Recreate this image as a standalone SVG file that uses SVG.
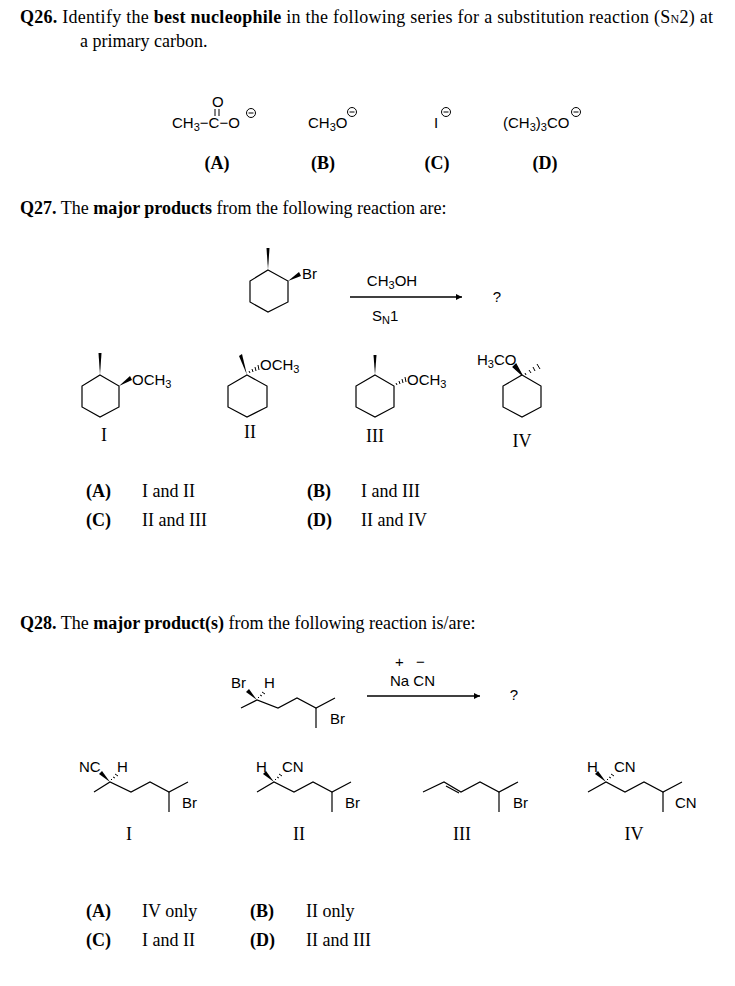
<svg xmlns="http://www.w3.org/2000/svg" width="735" height="986" viewBox="0 0 735 986">
<style>
.t{font-family:"Liberation Serif",serif;font-size:18px;fill:#000}
.s{font-family:"Liberation Sans",Arial,sans-serif;font-size:15px;fill:#000}
.b{stroke:#000;stroke-width:1.2;fill:none}
.w{fill:#000}
.h{stroke:#000;stroke-width:1}
</style>
<defs>
<marker id="ar" viewBox="0 0 10 10" refX="10" refY="5" markerWidth="8" markerHeight="6" orient="auto" markerUnits="userSpaceOnUse"><path d="M0,0L10,5L0,10z"/></marker>
<g id="neg"><circle r="4.5" fill="none" stroke="#000" stroke-width="1"/><line x1="-2.5" x2="2.5" stroke="#000" stroke-width="1"/></g>
</defs>
<rect width="735" height="986" fill="#fff"/>
<g id="q26">
<text class="t" x="20" y="23" textLength="693" lengthAdjust="spacing"><tspan font-weight="bold">Q26.</tspan> Identify the <tspan font-weight="bold">best nucleophile</tspan> in the following series for a substitution reaction (S<tspan font-size="12">N</tspan>2) at</text>
<text class="t" x="80" y="47">a primary carbon.</text>
<text class="s" x="172" y="128">CH<tspan font-size="11" dy="3">3</tspan><tspan dy="-3">−C−O</tspan></text>
<text class="s" x="212" y="107">O</text>
<line class="h" x1="215" y1="109" x2="215" y2="116"/><line class="h" x1="219" y1="109" x2="219" y2="116"/>
<use href="#neg" x="251" y="113"/>
<text class="s" x="308" y="128">CH<tspan font-size="11" dy="3">3</tspan><tspan dy="-3">O</tspan></text>
<use href="#neg" x="352" y="112"/>
<text class="s" x="434" y="128">I</text>
<use href="#neg" x="446" y="112"/>
<text class="s" x="503" y="128">(CH<tspan font-size="11" dy="3">3</tspan><tspan dy="-3">)</tspan><tspan font-size="11" dy="3">3</tspan><tspan dy="-3">CO</tspan></text>
<use href="#neg" x="576" y="112"/>
<text class="t" x="217" y="169" text-anchor="middle" font-weight="bold">(A)</text>
<text class="t" x="323" y="169" text-anchor="middle" font-weight="bold">(B)</text>
<text class="t" x="437" y="169" text-anchor="middle" font-weight="bold">(C)</text>
<text class="t" x="545" y="169" text-anchor="middle" font-weight="bold">(D)</text>
</g>
<g id="q27">
<text class="t" x="20" y="214"><tspan font-weight="bold">Q27.</tspan> The <tspan font-weight="bold">major products</tspan> from the following reaction are:</text>
<polygon class="b" points="268,270 288,281 288,302 268,312 250,302 250,281"/>
<polygon class="w" points="266.5,248 269.5,248 268,270"/>
<polygon class="w" points="288,281 299,272 301,276"/>
<text class="s" x="302" y="279">Br</text>
<line x1="350" y1="297" x2="462" y2="297" stroke="#000" stroke-width="1.5" marker-end="url(#ar)"/>
<text class="s" x="392" y="286" text-anchor="middle">CH<tspan font-size="11" dy="3">3</tspan><tspan dy="-3">OH</tspan></text>
<text class="s" x="372" y="321">S<tspan font-size="11" dy="3">N</tspan><tspan dy="-3">1</tspan></text>
<text class="s" x="497" y="302" text-anchor="middle">?</text>
<!-- I -->
<polygon class="b" points="100,375 119,386 119,407 100,417 82,407 82,386"/>
<polygon class="w" points="98.5,353 101.5,353 100,375"/>
<polygon class="w" points="119,386 130,376 132,380"/>
<text class="s" x="132" y="385">OCH<tspan font-size="11" dy="3">3</tspan></text>
<text class="t" x="104" y="441" text-anchor="middle">I</text>
<!-- II -->
<polygon class="b" points="247,375 267,386 267,407 247,417 228,407 228,386"/>
<polygon class="w" points="239,356 242,354 247,375"/>
<g class="h"><line x1="250" y1="373" x2="249" y2="371"/><line x1="253" y1="372" x2="252" y2="369"/><line x1="256" y1="371" x2="255" y2="367"/><line x1="259" y1="370" x2="258" y2="365"/></g>
<text class="s" x="260" y="370">OCH<tspan font-size="11" dy="3">3</tspan></text>
<text class="t" x="250" y="438" text-anchor="middle">II</text>
<!-- III -->
<polygon class="b" points="375,375 394,386 394,407 375,417 356,407 356,386"/>
<polygon class="w" points="373.5,355 376.5,355 375,375"/>
<g class="h"><line x1="397" y1="385" x2="396" y2="383"/><line x1="400" y1="384" x2="399" y2="381"/><line x1="403" y1="383" x2="402" y2="379"/><line x1="406" y1="382" x2="405" y2="377"/></g>
<text class="s" x="407" y="385">OCH<tspan font-size="11" dy="3">3</tspan></text>
<text class="t" x="375" y="442" text-anchor="middle">III</text>
<!-- IV -->
<polygon class="b" points="522,375 513,367 516,364"/>
<polygon class="b" points="522,375 541,386 541,407 522,417 503,407 503,386"/>
<polygon class="w" points="522,375 513,367 516,364"/>
<text class="s" x="477" y="365">H<tspan font-size="11" dy="3">3</tspan><tspan dy="-3">CO</tspan></text>
<g class="h"><line x1="525" y1="373" x2="526" y2="375"/><line x1="529" y1="370" x2="531" y2="373"/><line x1="533" y1="367" x2="535" y2="371"/><line x1="537" y1="364" x2="540" y2="369"/></g>
<text class="t" x="522" y="447" text-anchor="middle">IV</text>
<text class="t" x="86" y="497" font-weight="bold">(A)</text><text class="t" x="142" y="497">I and II</text>
<text class="t" x="307" y="497" font-weight="bold">(B)</text><text class="t" x="361" y="497">I and III</text>
<text class="t" x="86" y="526" font-weight="bold">(C)</text><text class="t" x="142" y="526">II and III</text>
<text class="t" x="307" y="526" font-weight="bold">(D)</text><text class="t" x="361" y="526">II and IV</text>
</g>
<g id="q28">
<text class="t" x="20" y="629"><tspan font-weight="bold">Q28.</tspan> The <tspan font-weight="bold">major product(s)</tspan> from the following reaction is/are:</text>
<polyline class="b" points="241,708 257,700 278,708 297,698 316,708 335,698"/>
<line class="b" x1="316" y1="708" x2="316" y2="728"/>
<polygon class="w" points="257,700 246,692 249,689"/>
<g class="h"><line x1="259" y1="698" x2="258" y2="697"/><line x1="262" y1="696" x2="260" y2="695"/><line x1="265" y1="694" x2="262" y2="692"/></g>
<text class="s" x="231" y="688">Br</text><text class="s" x="264" y="688">H</text>
<text class="s" x="330" y="724">Br</text>
<line x1="367" y1="696" x2="480" y2="696" stroke="#000" stroke-width="1.5" marker-end="url(#ar)"/>
<text class="s" x="390" y="686">Na CN</text>
<text class="s" x="395" y="667" font-size="12">+</text><text class="s" x="416" y="667" font-size="12">−</text>
<text class="s" x="514" y="700" text-anchor="middle">?</text>
<!-- I -->
<polyline class="b" points="94,792 110,782 131,792 150,782 169,792 188,782"/>
<line class="b" x1="169" y1="792" x2="169" y2="812"/>
<polygon class="w" points="110,782 99,774 102,771"/>
<g class="h"><line x1="112" y1="780" x2="111" y2="779"/><line x1="115" y1="778" x2="113" y2="777"/><line x1="118" y1="776" x2="115" y2="774"/></g>
<text class="s" x="79" y="772">NC</text><text class="s" x="117" y="772">H</text>
<text class="s" x="182" y="808">Br</text>
<text class="t" x="129" y="840" text-anchor="middle">I</text>
<!-- II -->
<polyline class="b" points="257,792 274,782 294,792 313,782 332,792 351,782"/>
<line class="b" x1="332" y1="792" x2="332" y2="812"/>
<polygon class="w" points="274,782 263,774 266,771"/>
<g class="h"><line x1="276" y1="780" x2="275" y2="779"/><line x1="279" y1="778" x2="277" y2="777"/><line x1="282" y1="776" x2="279" y2="774"/></g>
<text class="s" x="256" y="772">H</text><text class="s" x="282" y="772">CN</text>
<text class="s" x="345" y="808">Br</text>
<text class="t" x="299" y="840" text-anchor="middle">II</text>
<!-- III -->
<polyline class="b" points="423,792 444,782 461,792 480,782 499,792 518,782"/>
<line class="b" x1="446" y1="786" x2="459" y2="793"/>
<line class="b" x1="499" y1="792" x2="499" y2="812"/>
<text class="s" x="513" y="808">Br</text>
<text class="t" x="462" y="840" text-anchor="middle">III</text>
<!-- IV -->
<polyline class="b" points="588,792 606,782 625,792 644,782 663,792 682,782"/>
<line class="b" x1="663" y1="792" x2="663" y2="812"/>
<polygon class="w" points="606,782 595,774 598,771"/>
<g class="h"><line x1="608" y1="780" x2="607" y2="779"/><line x1="611" y1="778" x2="609" y2="777"/><line x1="614" y1="776" x2="611" y2="774"/></g>
<text class="s" x="587" y="772">H</text><text class="s" x="614" y="772">CN</text>
<text class="s" x="675" y="808">CN</text>
<text class="t" x="634" y="840" text-anchor="middle">IV</text>
<text class="t" x="86" y="917" font-weight="bold">(A)</text><text class="t" x="142" y="917">IV only</text>
<text class="t" x="250" y="917" font-weight="bold">(B)</text><text class="t" x="306" y="917">II only</text>
<text class="t" x="86" y="946" font-weight="bold">(C)</text><text class="t" x="142" y="946">I and II</text>
<text class="t" x="250" y="946" font-weight="bold">(D)</text><text class="t" x="306" y="946">II and III</text>
</g>
</svg>
